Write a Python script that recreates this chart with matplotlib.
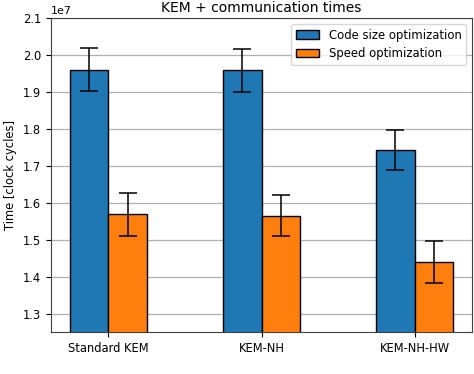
import matplotlib
matplotlib.use("Agg")
import matplotlib.pyplot as plt
import numpy as np

categories = ["Standard KEM", "KEM-NH", "KEM-NH-HW"]
code_size = [1.960e7, 1.958e7, 1.743e7]
code_size_err = [0.058e7, 0.057e7, 0.054e7]
speed = [1.569e7, 1.565e7, 1.440e7]
speed_err = [0.058e7, 0.056e7, 0.057e7]
series_labels = ["Code size optimization", "Speed optimization"]

plt.rcParams['font.size'] = 8.3
fig = plt.figure(figsize=(4.74, 3.74), dpi=100)
ax = fig.add_axes([51/474, 1-332/374, (472-51)/474, (332-18)/374])

x = np.arange(len(categories))
w = 0.25
ax.bar(x - w/2, code_size, w, yerr=code_size_err, color="#1f77b4", edgecolor="black",
       linewidth=1, capsize=6.8, error_kw=dict(elinewidth=1.1, capthick=1.1),
       label=series_labels[0], zorder=3)
ax.bar(x + w/2, speed, w, yerr=speed_err, color="#ff7f0e", edgecolor="black",
       linewidth=1, capsize=6.8, error_kw=dict(elinewidth=1.1, capthick=1.1),
       label=series_labels[1], zorder=3)

ax.set_xticks(x)
ax.set_xticklabels(categories)
ax.tick_params(labelsize=8.3)
ax.set_ylim(1.25e7, 2.1e7)
ax.set_xlim(-0.375, 2.375)
ax.yaxis.grid(True, color="#b0b0b0", linewidth=0.9, zorder=0)
ax.set_axisbelow(True)
ax.yaxis.get_offset_text().set_fontsize(8.0)
ax.set_ylabel("Time [clock cycles]", fontsize=8.3)
ax.set_title("KEM + communication times", fontsize=10, pad=4)
ax.legend(loc="upper right", fontsize=8.4)
for s in ax.spines.values():
    s.set_color("#404040")

fig.savefig("out.png", dpi=100)
